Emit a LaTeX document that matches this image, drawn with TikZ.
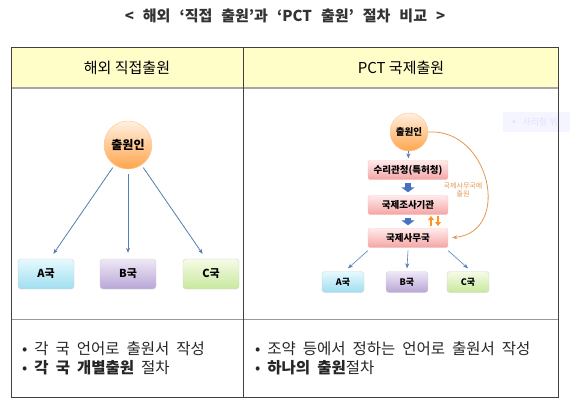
\documentclass[tikz,border=0pt]{standalone}
\usepackage{fontspec}
\setmainfont{Noto Sans CJK KR}
\usetikzlibrary{arrows.meta,positioning}
\definecolor{headfill}{RGB}{255,253,200}
\definecolor{linkblue}{RGB}{84,126,180}
\definecolor{flowblue}{RGB}{70,114,196}
\definecolor{curveorange}{RGB}{228,150,80}
\definecolor{atop}{RGB}{230,249,254}
\definecolor{abot}{RGB}{160,222,240}
\definecolor{btop}{RGB}{238,232,246}
\definecolor{bbot}{RGB}{185,166,214}
\definecolor{ctop}{RGB}{245,251,230}
\definecolor{cbot}{RGB}{200,232,158}
\definecolor{ptop}{RGB}{255,234,234}
\definecolor{pbot}{RGB}{244,165,165}
\newcommand{\gap}{\hspace{9pt}}

\begin{document}
\begin{tikzpicture}
[x=1pt, y=-1pt, font=\fontsize{15}{17}\selectfont]
\tikzstyle{ball}=[circle, draw=orange!45, top color=orange!12, bottom color=orange!70, inner sep=0pt, font=\bfseries\fontsize{12}{14}\selectfont]
\tikzstyle{land}=[rectangle, rounded corners=3pt, draw=gray!35, minimum width=56pt, minimum height=30pt, font=\bfseries\fontsize{11}{13}\selectfont]
\tikzstyle{miniland}=[land, minimum width=42pt, minimum height=21pt, font=\bfseries\fontsize{9}{11}\selectfont]
\tikzstyle{office}=[rectangle, rounded corners=2pt, draw=red!25, top color=ptop, bottom color=pbot, minimum width=80pt, minimum height=19pt, inner sep=1pt, font=\bfseries\fontsize{9.5}{11}\selectfont]
\tikzstyle{link}=[draw=linkblue, line width=0.8pt, -{Stealth[length=5pt,width=4pt]}]
\tikzstyle{flow}=[draw=flowblue, line width=6pt, -{Triangle[length=5pt,width=13pt]}, shorten <=3pt, shorten >=3pt]
\tikzstyle{udarrow}=[draw=orange!85, line width=2.5pt, -{Triangle[length=4pt,width=6pt]}]
\tikzstyle{bullet}=[anchor=west, inner sep=0pt, text=black!85, font=\fontsize{15.5}{17}\selectfont]
\useasboundingbox (0,0) rectangle (570,402);

% title and table
\node[font=\bfseries\fontsize{15}{17}\selectfont, text=black!80] (title) at (285,16) {<\gap 해외\gap ‘직접\gap 출원’과\gap ‘PCT\gap 출원’\gap 절차\gap 비교\gap >};
\fill[headfill] (11,47) rectangle (558,88);
\fill[blue!4] (503,112) rectangle (570,132);
\node[anchor=west, text=blue!12, font=\fontsize{9}{10}\selectfont] (mark) at (506,122) {▪\ \ 사리형 위};
\draw[gray!70, line width=1.2pt] (11,88) -- (558,88);
\draw[gray!80] (11,319) -- (558,319);
\draw[black!75] (243,47) -- (243,397);
\draw[black!75, line width=0.9pt] (11,47) rectangle (558,397);
\node (hleft) at (127,68) {해외 직접출원};
\node (hright) at (401,68) {PCT 국제출원};

% direct filing
\node[ball, minimum size=48pt] (app1) at (128,145) {출원인};
\node[land, top color=atop, bottom color=abot] (la) at (46,274) {A국};
\node[land, top color=btop, bottom color=bbot] (lb) at (128,274) {B국};
\node[land, top color=ctop, bottom color=cbot] (lc) at (211,274) {C국};
\draw[link, shorten <=3pt, shorten >=6pt] (app1.236) -- ([xshift=4pt]la.north);
\draw[link, shorten <=5pt, shorten >=6pt] (app1.south) -- (lb.north);
\draw[link, shorten <=3pt, shorten >=6pt] (app1.304) -- ([xshift=-5pt]lc.north);

% PCT filing
\node[ball, minimum size=38pt, font=\bfseries\fontsize{9.5}{11}\selectfont] (app2) at (409,132) {출원인};
\node[office] (suri) at (408,170) {수리관청(특허청)};
\node[office] (josa) at (408,205) {국제조사기관};
\node[office] (bureau) at (408,238) {국제사무국};
\node[miniland, top color=atop, bottom color=abot] (ra) at (343,282) {A국};
\node[miniland, top color=btop, bottom color=bbot] (rb) at (407,282) {B국};
\node[miniland, top color=ctop, bottom color=cbot] (rc) at (468,282) {C국};
\draw[link, line width=0.6pt, shorten >=2pt] (app2) -- (suri);
\draw[flow] (suri) -- (josa);
\draw[flow] (josa) -- (bureau);
\coordinate (upfrom) at (431,226);
\coordinate (upto) at (431,216);
\coordinate (dnfrom) at (438,216);
\coordinate (dnto) at (438,226);
\draw[udarrow] (upfrom) -- (upto);
\draw[udarrow] (dnfrom) -- (dnto);
\draw[draw=curveorange, line width=0.8pt, -{Stealth[length=5pt,width=4pt]}, shorten >=4pt]
  (app2.east) .. controls +(62,-4) and +(64,-6) .. (bureau.east);
\node[align=center, text=curveorange, font=\fontsize{7}{8.5}\selectfont] (note) at (463,190) {국제사무국에\\출원};
\draw[link, line width=0.6pt] ([yshift=-3pt]bureau.south west) -- ([xshift=5pt,yshift=3pt]ra.north);
\draw[link, line width=0.6pt] ([yshift=-3pt]bureau.south) -- ([yshift=3pt]rb.north);
\draw[link, line width=0.6pt] ([yshift=-3pt]bureau.south east) -- ([yshift=3pt]rc.north);

% notes
\node[bullet] (l1) at (22,349) {•\ \ 각\ \ 국\ \ 언어로\ \ 출원서\ \ 작성};
\node[bullet] (l2) at (22,368) {•\ \ \textbf{각\ \ 국\ \ 개별출원}\ \ 절차};
\node[bullet] (r1) at (255,349) {•\ \ 조약\ \ 등에서\ \ 정하는\ \ 언어로\ \ 출원서\ \ 작성};
\node[bullet] (r2) at (255,368) {•\ \ \textbf{하나의\ \ 출원}절차};
\end{tikzpicture}
\end{document}
